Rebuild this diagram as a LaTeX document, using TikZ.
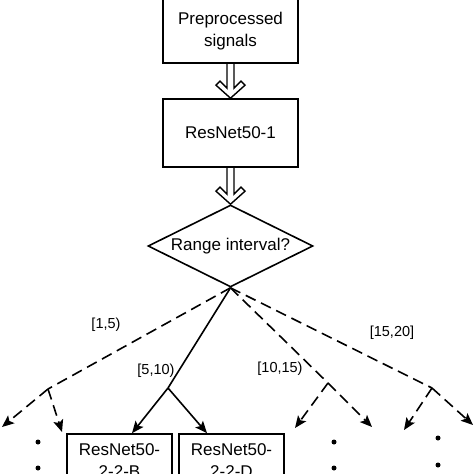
\documentclass[tikz,border=0pt]{standalone}
\usepackage{fontspec}
\setmainfont{Liberation Sans}
\usetikzlibrary{arrows.meta,shapes.geometric,calc}
\begin{document}
\begin{tikzpicture}[x=1pt,y=-1pt,line width=1.6pt,
  box/.style={draw, rectangle, minimum width=135pt, inner sep=0pt, align=center,
    font=\fontsize{17pt}{22pt}\selectfont},
  dia/.style={draw, diamond, aspect=2, inner sep=0pt, minimum width=165pt, minimum height=82pt,
    font=\fontsize{17pt}{22pt}\selectfont},
  lab/.style={inner sep=0pt, font=\fontsize{14.5pt}{17pt}\selectfont},
  harrow/.style={line width=1.4pt, line join=miter},
  dline/.style={dash pattern=on 11pt off 6pt},
  tip/.style={-{Stealth[length=12pt,width=10pt,inset=2.5pt]}},
  dotmark/.style={circle, fill=black, inner sep=0pt, minimum size=5pt}]
\useasboundingbox (0,0) rectangle (474,474);
\clip (0,0) rectangle (474,474);

\node[box, minimum height=64pt] (pre) at (230.5,31) {Preprocessed\\signals};
\node[box, minimum height=68pt] (res1) at (230.5,133) {ResNet50-1};
\node[dia] (rng) at (230.5,246) {Range interval?};
\node[box, minimum width=105pt, minimum height=54pt] (b1) at (119.5,461) {ResNet50-\\2-2-B};
\node[box, minimum width=105pt, minimum height=54pt] (b2) at (231.5,461) {ResNet50-\\2-2-D};

% hollow arrows
\draw[harrow] ($(pre.south)+(-3.5,0)$) -- ($(res1.north)+(-3.5,-10)$) -- ($(res1.north)+(-10.5,-17)$)
  -- ($(res1.north)+(-14.5,-13)$) -- (res1.north) -- ($(res1.north)+(14.5,-13)$)
  -- ($(res1.north)+(10.5,-17)$) -- ($(res1.north)+(3.5,-10)$) -- ($(pre.south)+(3.5,0)$);
\draw[harrow] ($(res1.south)+(-3.5,0)$) -- ($(rng.north)+(-3.5,-10)$) -- ($(rng.north)+(-10.5,-17)$)
  -- ($(rng.north)+(-14.5,-13)$) -- (rng.north) -- ($(rng.north)+(14.5,-13)$)
  -- ($(rng.north)+(10.5,-17)$) -- ($(rng.north)+(3.5,-10)$) -- ($(res1.south)+(3.5,0)$);

% junctions and free ends
\coordinate (jL) at (48,389);
\coordinate (jB) at (168,388);
\coordinate (jC) at (328,383);
\coordinate (jR) at (432,388);
\coordinate (tL1) at (2,427);
\coordinate (tL2) at (62,432);
\coordinate (tC1) at (295,428);
\coordinate (tC2) at (372,427);
\coordinate (tR1) at (404,430);
\coordinate (tR2) at (473,425);

\draw[dline] (rng.south) -- (jL);
\draw (rng.south) -- (jB);
\draw[dline] (rng.south) -- (jC);
\draw[dline] (rng.south) -- (jR);

\draw[dline, tip] (jL) -- (tL1);
\draw[dline, tip] (jL) -- (tL2);
\draw[tip] (jB) -- ([xshift=12.5pt]b1.north);
\draw[tip] (jB) -- ([xshift=-24.5pt]b2.north);
\draw[dline, tip] (jC) -- (tC1);
\draw[dline, tip] (jC) -- (tC2);
\draw[dline, tip] (jR) -- (tR1);
\draw[dline, tip] (jR) -- (tR2);

\node[lab] (l1) at (106,325) {[1,5)};
\node[lab] (l2) at (156,371) {[5,10)};
\node[lab] (l3) at (280,369) {[10,15)};
\node[lab] (l4) at (392,333) {[15,20]};

\node[dotmark] (d1) at (38,442) {};
\node[dotmark] (d2) at (38,468) {};
\node[dotmark] (d3) at (334,442) {};
\node[dotmark] (d4) at (334,468) {};
\node[dotmark] (d5) at (438,438) {};
\node[dotmark] (d6) at (438,465) {};
\end{tikzpicture}
\end{document}
